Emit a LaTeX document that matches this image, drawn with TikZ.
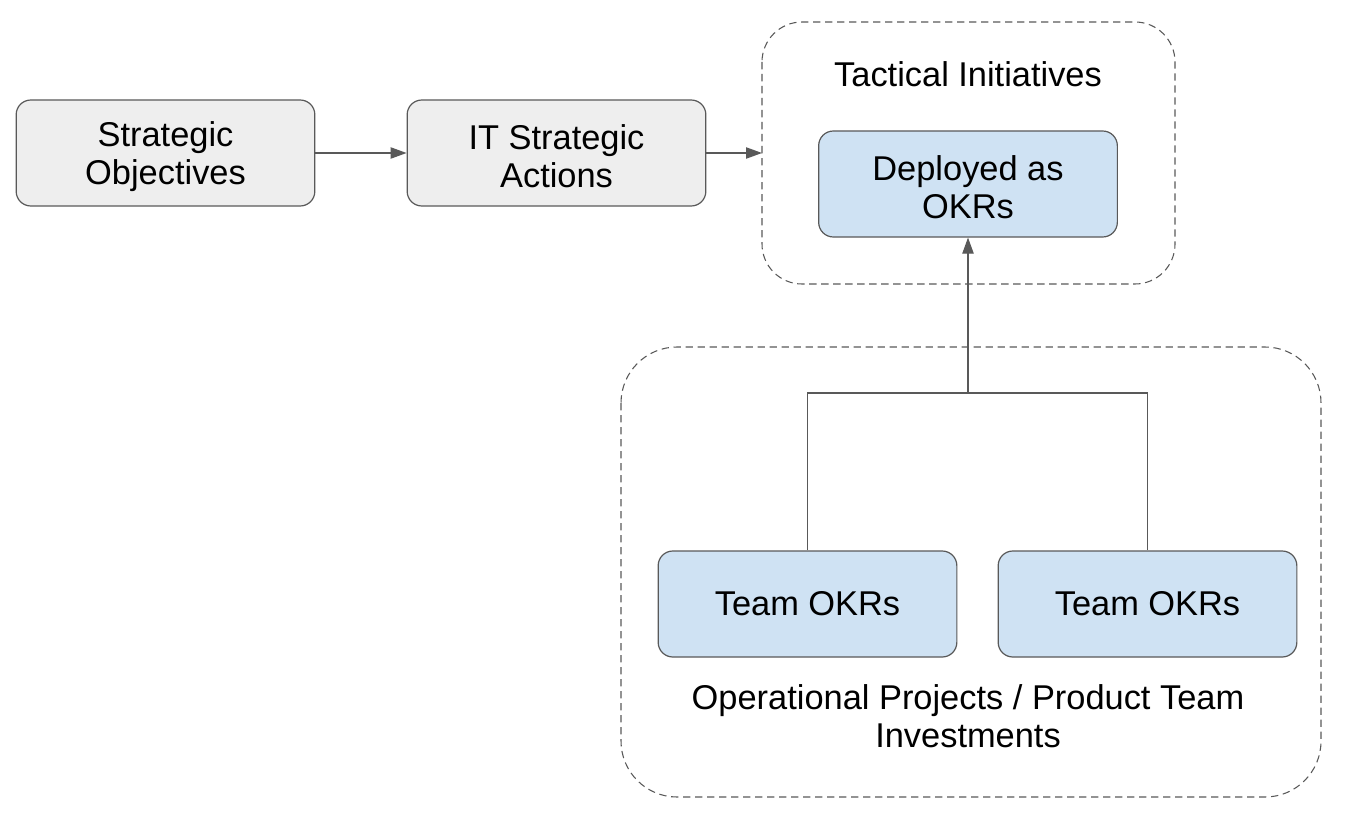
\documentclass[tikz,border=0pt]{standalone}
\usepackage{fontspec}
\setmainfont{Liberation Sans}
\usetikzlibrary{arrows.meta}
\definecolor{edge}{HTML}{595959}
\definecolor{grayfill}{HTML}{EEEEEE}
\definecolor{bluefill}{HTML}{CFE2F3}
\begin{document}
\begin{tikzpicture}[x=0.75pt,y=-0.75pt,
  txt/.style={font=\fontsize{25.8}{28.5}\selectfont, align=center},
  box/.style={txt, draw=edge, line width=0.9pt, rounded corners=11pt, minimum width=224pt, minimum height=79.5pt, inner sep=0pt},
  graybox/.style={box, fill=grayfill},
  bluebox/.style={box, fill=bluefill},
  mltext/.style={label={[txt,yshift=-2.4pt]center:{#1}}},
  group/.style={draw=edge, line width=0.8pt, dash pattern=on 5.5pt off 3.5pt},
  conn/.style={draw=edge, line width=0.9pt},
  arr/.style={conn, -{Triangle[length=12pt,width=8.5pt]}}]
\useasboundingbox (0,0) rectangle (1358,813);
% containers
\draw[group, rounded corners=30pt] (762,22) rectangle (1175,284);
\draw[group, rounded corners=42pt] (621,347) rectangle (1321,797);
% nodes
\node[graybox, mltext={Strategic\\Objectives}] (so) at (165.5,153) {};
\node[graybox, mltext={IT Strategic\\Actions}] (ita) at (556.5,153) {};
\node[txt] (tact) at (968,74) {Tactical Initiatives};
\node[bluebox, mltext={Deployed as\\OKRs}] (dep) at (968,184) {};
\node[bluebox] (t1) at (807.5,604) {Team OKRs};
\node[bluebox] (t2) at (1147.5,604) {Team OKRs};
\node[txt] (ops) at (968,716) {Operational Projects / Product Team\\Investments};
\coordinate (tacin) at (762,153);
\coordinate (j) at (968,393);
% connectors
\draw[arr] (so) -- (ita);
\draw[arr] (ita.east) -- (tacin);
\draw[conn] (t1.north) |- (j) -| (t2.north);
\draw[arr] (j) -- (dep.south);
\end{tikzpicture}
\end{document}
